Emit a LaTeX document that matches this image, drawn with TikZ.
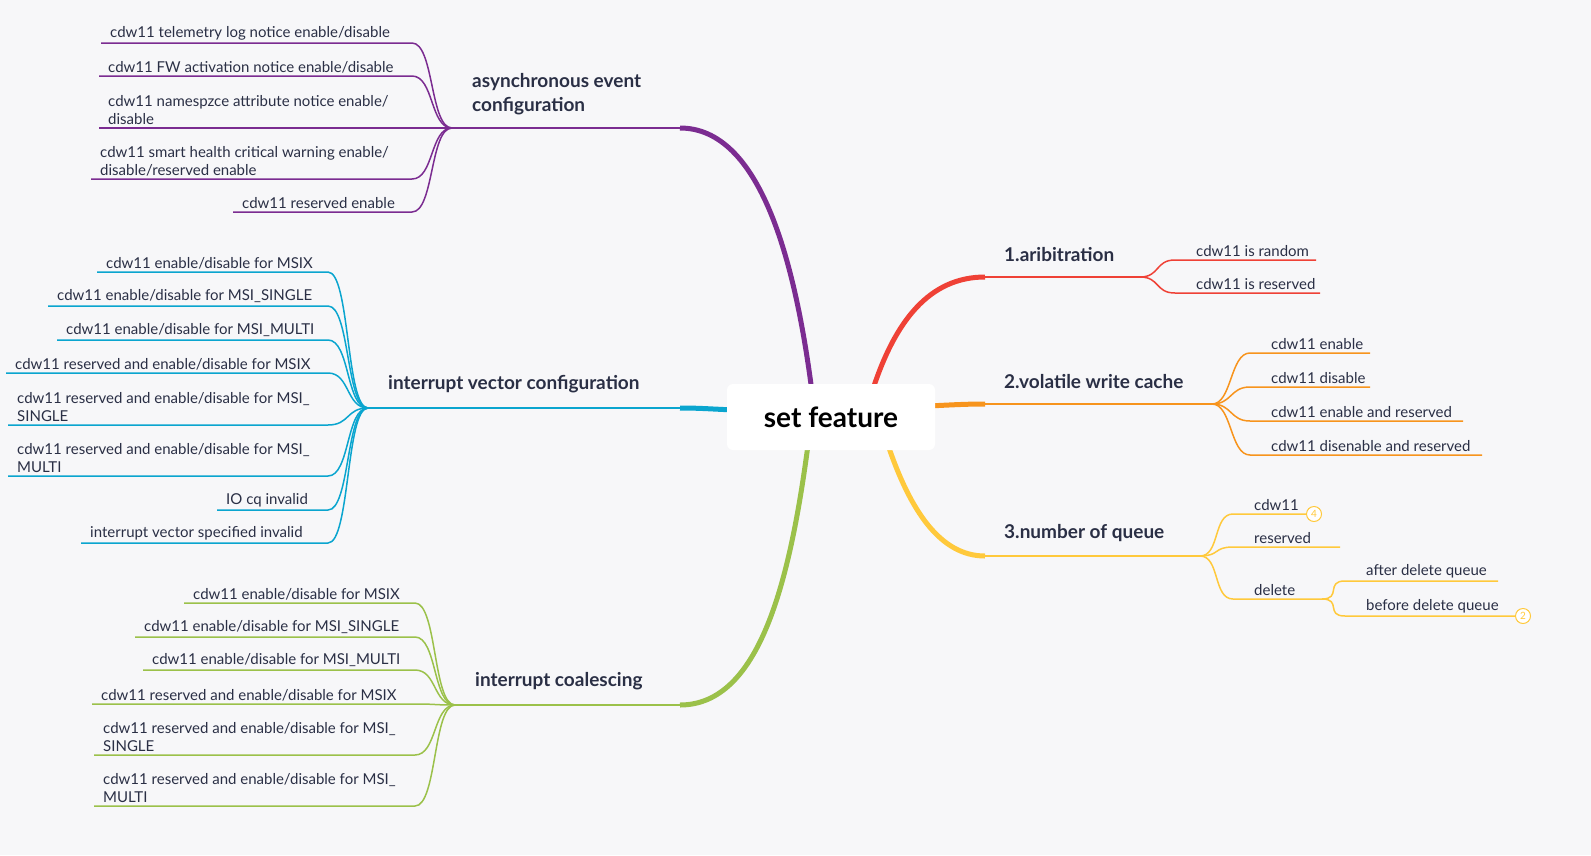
\documentclass[tikz,border=0pt]{standalone}
\usepackage{fontspec}
\setmainfont{Lato}
\usetikzlibrary{calc}
\definecolor{bg}{HTML}{F7F7F9}
\definecolor{txt}{HTML}{2A2F45}
\definecolor{cP}{HTML}{7B2C91}
\definecolor{cB}{HTML}{0AA5CF}
\definecolor{cG}{HTML}{9BC14A}
\definecolor{cR}{HTML}{EF4136}
\definecolor{cO}{HTML}{F7941D}
\definecolor{cY}{HTML}{FFC93C}
\tikzset{
  leaf/.style={font=\fontsize{15}{18}\selectfont, text=txt, align=left, inner xsep=0pt, inner ysep=3pt, anchor=south west},
  head/.style={font=\fontsize{19}{24}\selectfont\bfseries, text=txt, align=left, inner sep=0pt, anchor=south west},
  thin/.style={line width=1.5pt},
  main/.style={line width=5pt},
  rootst/.style={fill=white, rounded corners=6pt, minimum width=208pt, minimum height=66pt, font=\fontsize{28}{30}\selectfont\bfseries, text=black},
  num/.style={circle, draw=cY, fill=white, line width=1pt, inner sep=0pt, minimum size=15pt, font=\fontsize{10}{10}\selectfont, text=cY}
}
\newcommand{\leafL}[7]{%
  \coordinate (#1-a) at (#2,#4); \coordinate (#1-b) at (#3,#4);
  \node[leaf] (#1) at ($(#1-a)+(9,0)$) {#7};
  \draw[thin,#6] (#1-a) -- (#1-b) .. controls ($(#1-b)+(22,0)$) and ($(#5)+(-22,0)$) .. (#5);}
\newcommand{\leafR}[7]{%
  \coordinate (#1-a) at (#2,#4); \coordinate (#1-b) at (#3,#4);
  \node[leaf] (#1) at ($(#1-a)+(21,0)$) {#7};
  \draw[thin,#6] (#5) .. controls ($(#5)+(20,0)$) and ($(#1-a)+(-20,0)$) .. (#1-a) -- (#1-b);}
\begin{document}
\begin{tikzpicture}[x=1pt,y=-1pt]
\fill[bg] (0,0) rectangle (1591,855);
\useasboundingbox (0,0) rectangle (1591,855);

\coordinate (hP) at (452,128); \coordinate (jP) at (680,128);
\coordinate (hB) at (368,408); \coordinate (jB) at (680,408);
\coordinate (hG) at (455,705); \coordinate (jG) at (680,705);
\coordinate (hR) at (1140,277); \coordinate (jR) at (985,277);
\coordinate (hO) at (1212,404); \coordinate (jO) at (985,404);
\coordinate (hY) at (1200,556); \coordinate (jY) at (985,556);

\draw[main,cP] (812,392) .. controls (795,260) and (760,128) .. (jP);
\draw[thin,cP] (jP) -- (hP);
\draw[main,cB] (735,410) .. controls (710,409) and (700,408) .. (jB);
\draw[thin,cB] (jB) -- (hB);
\draw[main,cG] (808,445) .. controls (790,580) and (760,705) .. (jG);
\draw[thin,cG] (jG) -- (hG);
\draw[main,cR] (872,392) .. controls (895,320) and (930,277) .. (jR);
\draw[thin,cR] (jR) -- (hR);
\draw[main,cO] (928,406) .. controls (950,405) and (965,404) .. (jO);
\draw[thin,cO] (jO) -- (hO);
\draw[main,cY] (888,445) .. controls (910,510) and (940,556) .. (jY);
\draw[thin,cY] (jY) -- (hY);
\node[rootst] (root) at (831,417) {set feature};

\node[head] (tP) at (472,115) {asynchronous event\\configuration};
\node[head] (tB) at (388,393) {interrupt vector configuration};
\node[head] (tG) at (475,690) {interrupt coalescing};
\node[head] (tR) at (1004,262) {1.aribitration};
\node[head] (tO) at (1004,389) {2.volatile write cache};
\node[head] (tY) at (1004,542) {3.number of queue};

\leafL{p1}{101}{412}{43}{hP}{cP}{cdw11 telemetry log notice enable/disable}
\leafL{p2}{99}{412}{76}{hP}{cP}{cdw11 FW activation notice enable/disable}
\leafL{p3}{99}{412}{128}{hP}{cP}{cdw11 namespzce attribute notice enable/\\disable}
\leafL{p4}{91}{412}{179}{hP}{cP}{cdw11 smart health critical warning enable/\\disable/reserved enable}
\leafL{p5}{233}{412}{212}{hP}{cP}{cdw11 reserved enable}

\leafL{b1}{97}{328}{272}{hB}{cB}{cdw11 enable/disable for MSIX}
\leafL{b2}{48}{328}{306}{hB}{cB}{cdw11 enable/disable for MSI\_SINGLE}
\leafL{b3}{57}{328}{340}{hB}{cB}{cdw11 enable/disable for MSI\_MULTI}
\leafL{b4}{6}{328}{373}{hB}{cB}{cdw11 reserved and enable/disable for MSIX}
\leafL{b5}{8}{328}{425}{hB}{cB}{cdw11 reserved and enable/disable for MSI\_\\SINGLE}
\leafL{b6}{8}{328}{476}{hB}{cB}{cdw11 reserved and enable/disable for MSI\_\\MULTI}
\leafL{b7}{217}{328}{510}{hB}{cB}{IO cq invalid}
\leafL{b8}{81}{328}{543}{hB}{cB}{interrupt vector specified invalid}

\leafL{g1}{184}{415}{603}{hG}{cG}{cdw11 enable/disable for MSIX}
\leafL{g2}{135}{415}{637}{hG}{cG}{cdw11 enable/disable for MSI\_SINGLE}
\leafL{g3}{143}{415}{670}{hG}{cG}{cdw11 enable/disable for MSI\_MULTI}
\leafL{g4}{92}{415}{704}{hG}{cG}{cdw11 reserved and enable/disable for MSIX}
\leafL{g5}{94}{415}{755}{hG}{cG}{cdw11 reserved and enable/disable for MSI\_\\SINGLE}
\leafL{g6}{94}{415}{806}{hG}{cG}{cdw11 reserved and enable/disable for MSI\_\\MULTI}

\leafR{r1}{1175}{1316}{260}{hR}{cR}{cdw11 is random}
\leafR{r2}{1175}{1320}{293}{hR}{cR}{cdw11 is reserved}

\leafR{o1}{1250}{1370}{353}{hO}{cO}{cdw11 enable}
\leafR{o2}{1250}{1370}{387}{hO}{cO}{cdw11 disable}
\leafR{o3}{1250}{1463}{421}{hO}{cO}{cdw11 enable and reserved}
\leafR{o4}{1250}{1482}{455}{hO}{cO}{cdw11 disenable and reserved}

\leafR{y1}{1233}{1306}{514}{hY}{cY}{cdw11}
\leafR{y2}{1233}{1340}{547}{hY}{cY}{reserved}
\leafR{y3}{1233}{1322}{599}{hY}{cY}{delete}
\coordinate (hD) at (1322,599);
\leafR{y4}{1345}{1498}{581}{hD}{cY}{after delete queue}
\leafR{y5}{1345}{1515}{616}{hD}{cY}{before delete queue}
\node[num] (n4) at (1314,514) {4};
\node[num] (n2) at (1523,616) {2};
\end{tikzpicture}
\end{document}
